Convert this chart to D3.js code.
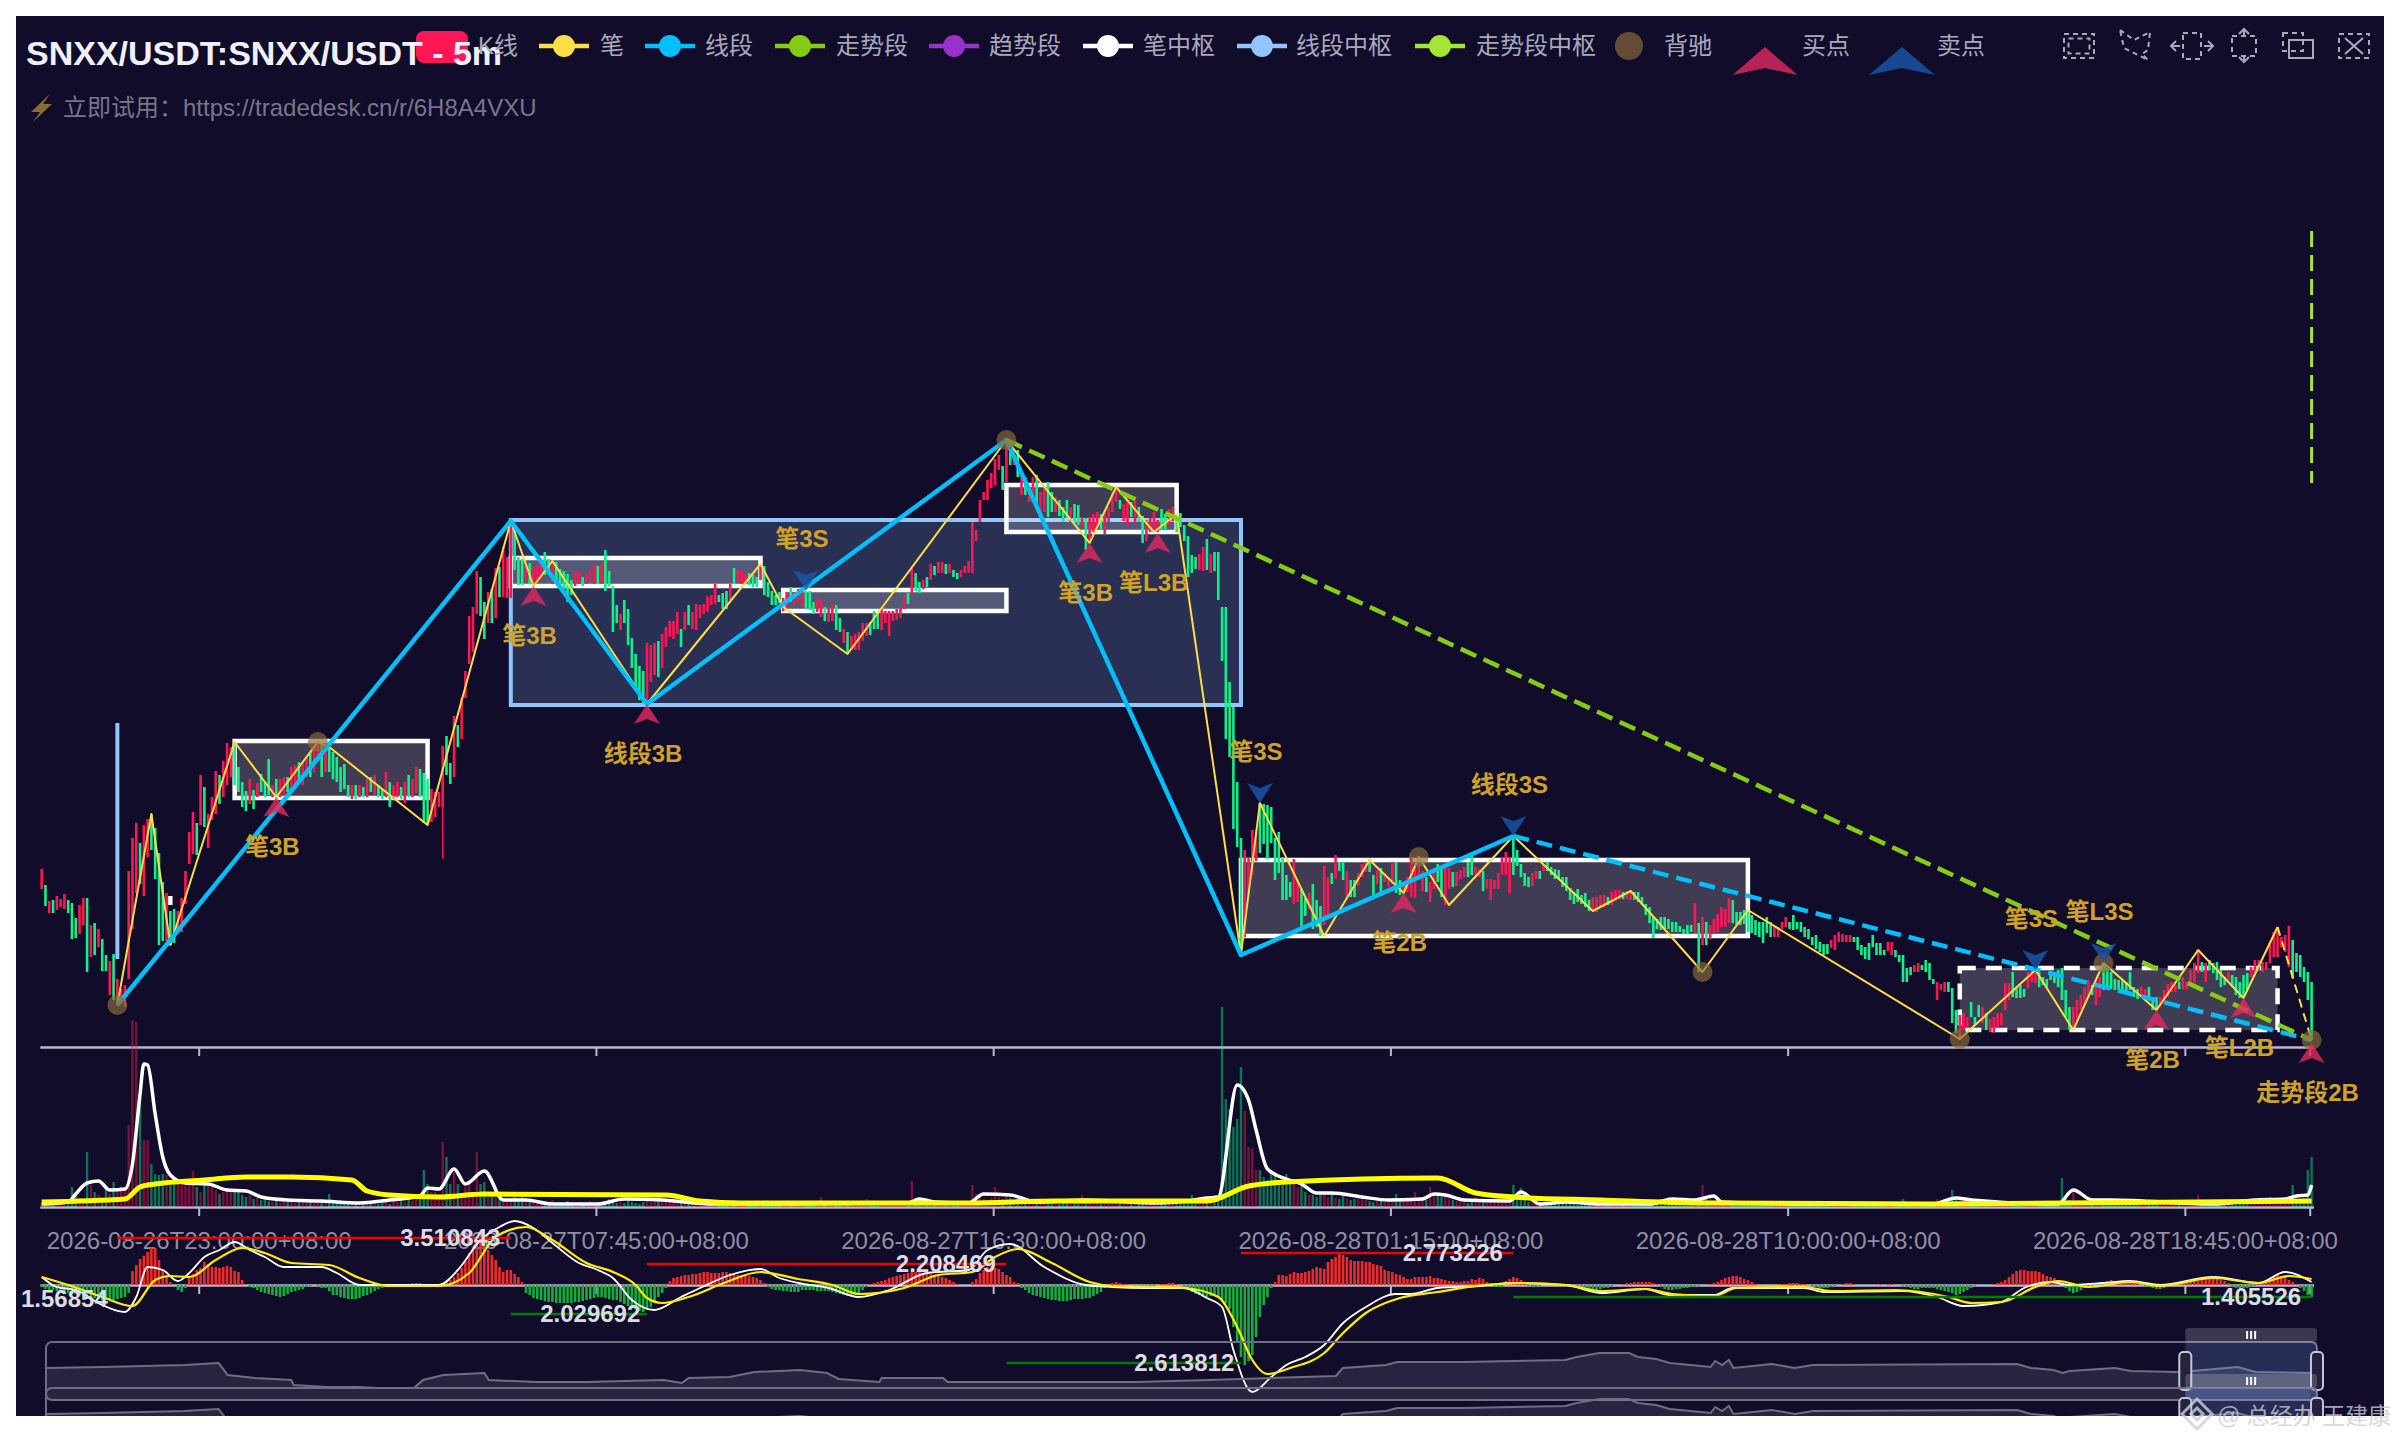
<!DOCTYPE html>
<html>
<head>
<meta charset="utf-8">
<title>SNXX/USDT 5m</title>
<script src="https://cdn.jsdelivr.net/npm/d3@7"></script>
<style>
  html, body { margin: 0; padding: 0; background: #fff; }
  text { font-family: "Liberation Sans", "Noto Sans CJK SC", sans-serif; }
</style>
</head>
<body>
<div id="chart"></div>
<script>
// ---- data, price and volume are in chart units (no axis values shown) ----
const barCount = 601;
const tickIndex = [42, 147, 252, 357, 462, 567, 600];
const tickLabels = ["2026-08-26T23:00:00+08:00", "2026-08-27T07:45:00+08:00", "2026-08-27T16:30:00+08:00",
  "2026-08-28T01:15:00+08:00", "2026-08-28T10:00:00+08:00", "2026-08-28T18:45:00+08:00", ""];

// [open, close] per bar
const candles = [
  [158,178],[162,141],[134,146],[147,134],[137,151],[140,148],[138,153],[147,134],[144,108],[129,109],
  [113,142],[122,149],[149,75],[90,122],[124,92],[100,118],[108,76],[92,76],[52,86],[93,47],
  [42,68],[45,58],[40,62],[68,176],[118,209],[154,224],[204,163],[151,222],[190,228],[233,197],
  [219,168],[194,102],[165,106],[106,154],[136,102],[138,104],[115,136],[115,149],[143,176],[183,215],
  [193,235],[224,192],[222,272],[260,220],[199,233],[227,250],[233,276],[272,243],[250,286],[262,304],
  [270,300],[305,262],[280,255],[265,240],[256,236],[243,268],[257,238],[250,264],[273,255],[265,250],
  [288,252],[250,262],[268,249],[250,268],[252,270],[270,255],[255,280],[260,282],[285,265],[262,285],
  [270,290],[295,270],[275,300],[285,305],[302,270],[275,300],[300,275],[295,268],[290,265],[280,255],
  [283,258],[262,250],[248,262],[262,248],[250,262],[260,250],[250,268],[270,255],[252,272],[262,250],
  [258,248],[250,275],[265,240],[248,262],[250,265],[260,248],[244,265],[272,250],[250,268],[254,280],
  [278,250],[274,224],[268,222],[225,258],[230,255],[240,255],[240,301],[311,272],[284,263],[270,331],
  [322,300],[308,349],[349,376],[383,431],[395,440],[433,476],[470,431],[445,408],[424,455],[458,424],
  [429,479],[480,450],[450,500],[449,490],[449,526],[516,477],[490,462],[488,462],[465,485],[484,463],
  [461,480],[465,483],[467,486],[495,472],[488,476],[463,486],[485,465],[478,462],[476,458],[473,445],
  [467,452],[461,476],[463,475],[470,461],[463,474],[465,477],[463,483],[481,463],[463,483],[497,456],
  [476,461],[461,415],[442,424],[417,433],[447,424],[438,402],[409,379],[393,360],[381,347],[376,343],
  [343,404],[365,402],[372,404],[406,370],[379,413],[400,420],[410,426],[408,426],[413,435],[418,400],
  [417,435],[442,422],[418,435],[417,443],[429,442],[433,443],[435,451],[442,452],[443,463],[452,445],
  [454,438],[456,438],[447,463],[479,463],[465,477],[463,476],[463,474],[474,462],[472,460],[470,460],
  [467,483],[481,452],[465,450],[456,442],[452,442],[455,444],[436,449],[440,455],[460,445],[442,455],
  [445,458],[440,456],[456,438],[456,437],[445,433],[435,448],[430,447],[440,426],[425,440],[426,443],
  [442,417],[429,415],[404,418],[415,393],[397,411],[397,413],[397,415],[406,424],[411,424],[425,412],
  [436,418],[433,418],[417,438],[424,436],[411,436],[426,436],[427,438],[429,442],[438,452],[454,443],
  [454,479],[474,456],[465,454],[458,467],[470,460],[467,483],[481,472],[474,485],[474,485],[483,473],
  [474,483],[477,470],[474,468],[470,477],[474,481],[474,486],[474,525],[506,517],[525,547],[547,555],
  [547,567],[559,574],[562,588],[577,592],[581,557],[565,607],[599,582],[582,597],[597,570],[552,574],
  [570,552],[545,555],[545,570],[572,540],[530,555],[535,560],[565,530],[555,535],[535,550],[547,531],
  [540,525],[547,529],[525,540],[543,524],[542,522],[520,530],[529,497],[504,530],[515,533],[520,535],
  [533,518],[513,536],[525,540],[535,555],[545,560],[547,538],[526,543],[522,547],[545,530],[524,547],
  [540,525],[531,504],[506,527],[515,529],[515,535],[515,527],[538,518],[533,518],[522,538],[526,540],
  [529,515],[534,520],[522,506],[511,470],[492,474],[490,478],[477,493],[476,500],[508,477],[474,493],
  [495,476],[495,447],[440,386],[440,308],[365,290],[340,218],[265,200],[209,92],[110,197],[150,190],
  [172,217],[186,217],[244,194],[243,203],[242,188],[240,204],[209,167],[215,174],[190,147],[172,147],
  [165,150],[143,188],[145,165],[158,120],[149,131],[138,154],[163,118],[147,120],[141,111],[122,181],
  [130,170],[174,163],[168,192],[185,176],[185,167],[150,176],[167,150],[167,150],[161,174],[170,183],
  [175,185],[188,175],[172,152],[163,177],[179,152],[165,174],[160,169],[163,185],[185,154],[167,152],
  [154,165],[155,170],[150,190],[149,179],[167,183],[156,176],[170,155],[145,165],[158,179],[183,165],
  [180,150],[142,179],[158,179],[175,160],[161,175],[168,177],[170,180],[185,170],[192,172],[172,180],
  [170,178],[176,156],[158,168],[147,168],[158,167],[158,174],[172,190],[172,195],[154,190],[209,172],
  [197,181],[183,170],[174,161],[170,160],[161,174],[168,176],[176,168],[176,183],[185,176],[180,172],
  [178,168],[177,168],[170,160],[170,156],[159,147],[155,143],[158,145],[152,143],[154,140],[147,136],
  [137,150],[135,150],[140,152],[140,152],[150,142],[142,155],[148,157],[148,157],[155,148],[148,156],
  [147,156],[155,147],[155,145],[150,142],[143,132],[140,124],[130,109],[128,118],[130,117],[130,117],
  [128,118],[125,115],[125,115],[121,115],[118,113],[122,113],[122,115],[114,144],[124,75],[102,130],
  [125,102],[108,122],[113,128],[115,133],[120,140],[120,138],[124,149],[147,124],[135,122],[135,122],
  [137,123],[135,115],[132,114],[127,112],[125,110],[125,104],[130,114],[125,110],[110,120],[110,120],
  [118,125],[120,130],[125,118],[132,117],[125,118],[125,115],[120,110],[118,108],[110,102],[112,98],
  [105,95],[103,92],[103,93],[99,107],[97,112],[105,115],[105,113],[105,112],[105,112],[110,105],
  [110,97],[102,92],[100,88],[104,87],[112,100],[104,92],[104,92],[97,92],[96,105],[92,105],
  [97,90],[92,85],[92,65],[79,65],[80,72],[75,82],[75,84],[82,77],[87,75],[84,67],
  [68,63],[47,65],[57,63],[55,65],[65,55],[59,24],[37,14],[9,32],[17,34],[20,30],
  [45,30],[30,22],[42,30],[24,40],[34,17],[15,28],[15,30],[20,34],[22,34],[37,64],
  [47,64],[75,50],[60,49],[62,49],[58,50],[59,75],[65,77],[64,79],[75,60],[70,62],
  [68,60],[75,67],[74,64],[77,60],[79,47],[57,30],[40,17],[20,40],[27,47],[37,52],
  [42,60],[50,67],[62,52],[42,65],[50,70],[84,57],[79,60],[75,58],[68,57],[67,57],
  [67,57],[65,55],[75,57],[60,50],[58,48],[50,60],[50,58],[60,47],[50,37],[50,37],
  [40,50],[43,57],[50,63],[55,65],[55,62],[65,58],[57,70],[58,65],[62,77],[64,84],
  [74,97],[85,75],[65,84],[87,77],[84,74],[85,67],[77,60],[70,62],[67,75],[72,60],
  [70,52],[65,49],[72,50],[74,57],[70,80],[74,87],[77,87],[75,85],[77,85],[84,105],
  [90,115],[90,120],[100,110],[95,112],[80,121],[107,69],[94,75],[92,70],[80,65],[75,47],
  [65,7]
];
// [bar, low, high]
const candleWicks = [[106, 188, 301]];

const volumes = [
  4,4,5,3,4,3,5,6,20,13,9,8,55,22,15,12,9,18,13,25,17,20,17,82,187,185,113,67,67,43,33,32,33,32,27,27,25,23,25,23,36,
  20,15,28,25,20,17,13,15,18,15,17,15,12,10,12,8,9,7,8,6,5,6,4,7,5,6,4,5,6,5,6,4,7,5,6,13,6,5,7,4,5,4,3,5,4,3,4,5,3,4,5,3,6,5,7,5,8,6,9,11,
  37,23,15,15,12,65,50,23,35,23,13,20,27,13,55,23,25,13,13,10,8,9,7,9,10,8,10,7,8,5,4,6,4,5,7,4,5,4,6,3,4,5,3,4,6,4,3,4,5,8,6,4,5,4,6,5,4,3,5,7,5,6,10,7,6,8,7,6,8,9,
  6,7,5,6,4,5,4,5,3,4,5,4,3,5,4,3,4,3,4,6,4,3,5,4,3,4,3,5,4,3,
  3,4,3,5,4,10,4,3,5,3,4,3,4,3,3,4,3,8,4,6,4,3,5,4,3,4,5,4,6,26,9,8,9,7,5,3,4,3,4,3,3,4,3,5,6,22,13,9,8,7,9,20,10,8,13,9,7,8,6,5,4,3,5,4,3,4,3,4,3,4,5,3,4,5,12,6,5,4,5,3,4,5,7,5,6,4,5,3,4,6,5,4,3,4,5,3,4,3,5,4,3,4,6,12,6,5,6,7,6,8,7,
  200,108,98,80,88,140,96,60,59,37,37,30,27,33,34,27,23,33,27,23,20,23,15,12,12,10,12,16,10,15,9,8,13,8,7,8,8,9,7,6,5,8,6,5,6,8,13,7,8,10,8,15,10,8,7,20,13,12,10,13,8,7,6,8,5,4,6,10,7,5,4,5,4,6,5,7,9,22,10,19,8,5,4,3,4,5,3,4,5,6,4,3,5,4,6,3,4,3,4,3,
  3,4,3,2,4,3,3,4,3,2,3,4,3,4,5,6,8,6,10,6,4,5,6,4,7,8,10,22,9,8,7,6,7,5,4,6,3,4,3,5,3,4,3,3,2,4,3,2,3,4,2,3,4,3,2,3,4,3,2,4,3,2,3,4,2,3,2,3,4,2,3,2,3,2,3,4,2,3,3,4,8,3,2,3,2,3,2,3,3,8,3,4,5,17,7,8,7,5,6,5,3,4,3,2,5,3,4,6,4,5,3,4,3,4,3,4,3,2,3,4,5,6,29,8,7,17,6,5,6,4,5,4,6,5,3,4,3,4,5,4,3,4,5,3,4,3,4,3,4,5,3,4,3,4,5,4,6,5,12,6,5,4,3,4,3,4,3,4,3,5,4,5,6,7,5,6,7,10,8,9,7,6,8,22,7,8,9,37,50
];
// [bar, value] nodes of the two volume averages
const volumeFast = [[0,3],[7,5],[9,13],[12,24],[15,26],[18,17],[22,18],[24,43],[26,113],[27,143],[28,142],[30,93],[32,50],[34,32],[38,24],[44,23],[49,17],[54,16],[58,10],[65,7],[74,6],[84,4],[92,7],[100,11],[102,19],[105,18],[109,38],[112,23],[117,36],[122,7],[128,7],[135,3],[147,3],[154,8],[164,7],[178,3],[199,3],
  [229,4],[232,8],[236,5],[245,4],[249,13],[256,12],[263,5],[276,7],[295,4],[303,6],[308,9],[311,10],[316,122],[319,107],[321,77],[324,38],[329,28],[333,23],[337,14],[341,14],[349,10],[356,7],[365,8],[368,13],[371,12],[376,7],[388,6],[391,15],[396,3],[403,5],[412,3],
  [425,3],[431,8],[437,7],[442,11],[444,5],[466,3],[500,3],[506,9],[510,7],[533,3],[537,17],[542,7],[547,7],[574,3],[585,7],[593,8],[596,11],[599,12],[600,22]];
const volumeSlow = [[0,5],[22,8],[26,20],[30,23],[43,27],[54,30],[66,30],[82,27],[86,16],[92,12],[105,10],[117,13],[165,12],[174,6],[185,4],[245,4],[268,6],[308,6],[319,21],[329,25],[369,29],[379,14],[389,10],[412,7],[439,4],[500,3],[600,6]];

const macdHist = [
  -2,-4,-5,-5,-6,-6,-7,-8,-9,-9,-10,-11,-12,-13,-13,-14,-15,-15,-15,-15,-14,-13,-12,-8,
  14,20,26,29,33,37,37,25,15,8,3,0,-5,-7,-3,8,11,15,17,23,21,18,18,17,18,19,18,14,13,5,0,
  -2,-3,-5,-7,-8,-9,-10,-11,-12,-11,-9,-7,-6,-5,-4,-2,-1,0,-1,-3,-3,-6,-10,-10,-12,-13,-14,-14,-14,-13,-11,-10,-8,-6,-4,-3,-2,-1,
  0,0,0,0,1,2,2,2,1,1,1,1,1,2,3,5,8,12,17,24,32,38,43,44,43,35,30,25,18,13,15,15,11,8,3,
  -8,-10,-13,-14,-15,-16,-17,-17,-18,-18,-18,-18,-18,-17,-17,-16,-15,-14,-13,-12,-12,-13,-14,-15,-15,-17,-19,-21,-22,-24,-26,-27,-25,-22,-18,-12,-8,-3,
  4,7,8,9,10,10,11,11,12,13,13,12,12,12,13,13,12,11,10,10,10,9,8,7,5,2,
  -2,-4,-5,-5,-6,-6,-7,-7,-7,
  -5,-5,-5,-5,-6,-6,-6,-6,-7,-8,-9,-10,-11,-11,-10,-8,-5,-2,
  1,2,3,4,5,7,8,9,10,11,12,13,13,13,12,12,11,10,9,8,7,5,3,1,0,0,0,
  3,6,12,15,18,19,17,16,13,10,8,3,2,
  -3,-5,-8,-10,-11,-12,-13,-14,-15,-15,-16,-16,-16,-15,-14,-14,-14,-13,-13,-11,-9,-7,-3,-1,
  2,3,2,1,1,0,-1,-2,-3,-3,-2,-1,0,1,1,2,2,1,0,-1,-5,-7,-9,-10,-12,-12,-11,-10,-12,-15,-18,
  -24,-42,-56,-72,-80,-76,-70,-52,-32,-20,-12,-3,
  3,10,10,9,11,13,12,12,13,14,16,18,17,16,23,26,28,31,30,28,25,24,24,24,23,23,21,20,19,15,14,13,11,10,8,6,6,8,8,8,8,9,7,7,6,5,4,4,3,3,4,4,6,5,7,6,3,2,
  -2,-2,-2,4,6,8,7,5,2,-1,-2,-2,-1,0,0,0,0,-1,-1,-1,-1,-2,-3,-4,-5,-6,-7,-6,
  -4,-3,-3,-1,0,0,1,2,2,3,3,3,3,3,2,1,-2,-4,-5,-5,-4,-4,-3,-3,-2,-2,-1,0,0,1,2,3,5,7,8,9,9,8,6,5,3,1,0,0,
  0,0,0,0,1,1,2,2,2,1,1,0,-1,-2,-3,-3,-3,-2,-1,0,1,2,2,1,0,0,0,0,0,0,1,0,1,1,0,0,
  -1,-2,-3,-4,-4,-3,-3,-3,-3,-4,-5,-6,-7,-8,-10,-9,-7,-5,-3,-1,0,0,0,0,1,2,3,5,8,11,14,15,15,14,14,14,13,11,9,8,7,5,3,
  -3,-6,-8,-7,-5,-3,-2,-1,0,0,2,4,5,4,3,3,3,2,2,1,0,-1,-2,-3,-4,-4,-3,-2,-1,1,2,2,3,3,4,4,5,6,6,7,6,5,4,2,
  -2,-3,-3,-3,-3,-2,-1,1,3,5,7,9,10,9,8,5,3,1,-3,-6,-10,-12
];
// [bar, value] nodes of DIF and DEA
const macdDif = [[0,8],[4,-2],[9,-5],[16,-20],[22,-27],[25,-12],[28,18],[32,15],[36,4],[39,12],[43,28],[47,35],[51,43],[55,35],[59,28],[64,18],[74,18],[78,12],[84,0],[97,0],[105,0],[110,15],[116,45],[121,58],[125,64],[130,57],[135,42],[142,22],[147,15],[151,7],[156,-15],[162,-25],[169,-12],[174,-3],[182,10],[190,16],[195,7],[200,2],
  [208,-3],[216,-12],[224,-5],[234,12],[245,15],[250,35],[256,41],[265,18],[276,0],[283,-2],[292,-3],[302,-3],[308,-13],[312,-22],[315,-65],[320,-107],[325,-92],[329,-80],[334,-72],[339,-60],[344,-38],[350,-22],[358,-9],[362,-9],[369,-3],[380,-1],[389,2],[403,0],[412,-8],
  [424,-4],[430,-10],[442,-10],[447,-3],[466,-3],[471,-7],[492,-6],[501,-12],[508,-21],[518,-17],[524,-3],[531,3],[536,0],[545,2],[552,4],[560,0],[574,8],[586,2],[593,13],[600,3]];
const macdDea = [[0,8],[7,0],[16,-12],[24,-21],[30,5],[34,9],[39,8],[46,25],[53,37],[59,32],[66,22],[76,20],[84,7],[92,-1],[105,-1],[113,12],[120,48],[128,58],[135,45],[144,22],[151,13],[157,0],[160,-13],[164,-18],[171,-12],[181,3],[190,13],[200,6],
  [209,0],[216,-9],[228,-3],[237,10],[246,13],[252,28],[258,36],[267,22],[277,3],[283,-1],[294,-2],[302,-3],[311,-12],[316,-42],[320,-75],[324,-89],[330,-83],[339,-68],[344,-48],[350,-28],[359,-13],[369,-7],[381,0],[392,2],[403,0],[412,-6],
  [424,-4],[431,-9],[442,-11],[448,-3],[466,-2],[473,-6],[490,-5],[504,-12],[510,-18],[518,-17],[527,-2],[533,4],[541,-2],[552,3],[560,-1],[574,7],[586,2],[594,9],[600,6]];
// [from bar, to bar, level, text, bar the text sits over]
const macdMarks = [[20,124,47,"3.510843",108],[124,160,-29,"2.029692",145],[160,255,21,"2.208469",239],[255,317,-78,"2.613812",302],[317,389,32,"2.773226",373],[389,600,-12,"1.405526",584]];

// [bar, price]
const biPoints = [[20,42],[29,233],[34,102],[51,305],[62,250],[73,305],[76,300],[102,222],[124,526],[130,461],[135,486],[160,343],[190,483],[196,440],[213,393],[255,607],[277,504],[284,560],[294,515],[300,533],[317,92],[322,244],[339,111],[351,187],[360,154],[364,190],[372,142],[389,211],[410,136],[420,156],[439,75],[451,137],[507,8],[527,77],[537,17],[545,84],[559,37],[570,97],[582,49],[591,120]];
const biPending = [[591,120],[600,7]];
const segmentPoints = [[20,42],[124,526],[160,343],[255,607],[317,92],[389,211]];
const segmentPending = [[389,211],[600,7]];
const trendPending = [[255,607],[600,7]];

// [from bar, to bar, low, high]
const biCenters = [[51,102,249,306],[124,190,461,489],[196,255,436,457],[255,300,515,562],[317,451,111,187],[34,34,142,151]];
const biCenterPending = [[507,591,17,79]];
const segmentCenters = [[124,317,342,527],[20,20,88,324]];
const trendCenterPending = [[600,600,564,816]];

const divergencePoints = [[20,42],[73,305],[255,607],[364,190],[439,75],[507,8],[545,84],[600,7]];
const buyPoints = [[62,250,"笔3B"],[130,461,"笔3B"],[160,343,"线段3B"],[277,504,"笔3B"],[295,514,"笔L3B"],[360,154,"笔2B"],[559,37,"笔2B"],[582,49,"笔L2B"],[600,4,"走势段2B"]];
const sellPoints = [[202,457,"笔3S"],[322,244,"笔3S"],[389,211,"线段3S"],[527,77,"笔3S"],[545,84,"笔L3S"]];

const legendLines = [["笔","#FFDD44"],["线段","#00BFFF"],["走势段","#86CB14"],["趋势段","#9932CC"],["笔中枢","#FFFFFF"],["线段中枢","#93C5FD"],["走势段中枢","#A3E635"]];

// [position, value] of the history shown behind the zoom sliders
const sliderHistory = [[0,32],[25,33],[61,35],[76,37],[80,25],[92,22],[108,20],[109,15],[124,13],[137,13],[146,12],[162,12],[166,20],[175,25],[193,27],[195,20],[216,18],[238,18],[272,20],[280,17],[283,22],[301,23],[312,28],[332,30],[344,27],[349,21],[367,18],[368,22],[395,22],[397,18],[480,18],[512,20],[568,24],[571,32],[590,35],[595,38],[624,38],[669,40],[674,43],[684,47],[697,47],[701,43],[709,41],[715,37],[733,33],[735,39],[738,35],[741,40],[743,32],[760,36],[770,32],[778,35],[868,36],[874,32],[884,30],[888,27],[891,29],[911,32],[918,29],[938,28],[945,29],[965,33],[973,28],[997,27]];

// ---- colours ----
const upColor = "#FF1654", downColor = "#10F08C";
const buyColor = "#E0285F", sellColor = "#1A56A8", divColor = "#8B6B3D";
const labelColor = "#CFA229", axisColor = "#B9B8CE";

// ---- scales ----
const svg = d3.select("#chart").append("svg")
  .attr("width", 2400).attr("height", 1440)
  .style("display", "block");

const x = d3.scaleLinear().domain([0, barCount]).range([39.8, 2313.5]);
const xc = function(i) { return x(i + 0.5); };
const yPrice = d3.scaleLinear().domain([0, 600]).range([1047, 447]);
const yVol = d3.scaleLinear().domain([0, 200]).range([1207, 1007]);
const yMacd = d3.scaleLinear().domain([-110, 70]).range([1395, 1215]);

const priceLine = d3.line().x(d => xc(d[0])).y(d => yPrice(d[1]));
const volLine = d3.line().x(d => xc(d[0])).y(d => yVol(d[1])).curve(d3.curveMonotoneX);
const macdLine = d3.line().x(d => xc(d[0])).y(d => yMacd(d[1])).curve(d3.curveMonotoneX);

// background
svg.append("rect").attr("x", 16).attr("y", 16).attr("width", 2368).attr("height", 1400).attr("fill", "#100C2A");
svg.append("defs").append("clipPath").attr("id", "plate")
  .append("rect").attr("x", 16).attr("y", 16).attr("width", 2368).attr("height", 1400);

// ---- axes ----
function drawAxis(yPos, labels) {
  const axis = d3.axisBottom(x).tickValues(tickIndex).tickSizeInner(9).tickSizeOuter(0).tickPadding(16)
    .tickFormat(function(d, i) { return labels ? tickLabels[i] : ""; });
  const g = svg.append("g").attr("transform", "translate(0," + yPos + ")").call(axis);
  g.select(".domain").attr("stroke", axisColor).attr("stroke-width", 2.5);
  g.selectAll(".tick line").attr("stroke", axisColor).attr("stroke-width", 2);
  g.selectAll(".tick text").attr("fill", "#8F8EA2").style("font-size", "24px")
    .style("font-family", '"Liberation Sans", sans-serif');
}
drawAxis(yPrice(0), false);
drawAxis(yVol(0), true);
drawAxis(yMacd(0), false);

// ---- volume panel ----
svg.append("g").selectAll("rect").data(volumes).enter().append("rect")
  .attr("x", (d, i) => xc(i) - 1.2)
  .attr("y", d => yVol(d))
  .attr("width", 2.4)
  .attr("height", d => yVol(0) - yVol(d))
  .attr("fill", (d, i) => candles[i][1] >= candles[i][0] ? upColor : downColor)
  .attr("opacity", 0.45);
svg.append("path").datum(volumeFast).attr("d", volLine).attr("fill", "none").attr("stroke", "#fff").attr("stroke-width", 3.5);
svg.append("path").datum(volumeSlow).attr("d", volLine).attr("fill", "none").attr("stroke", "#FFFF00").attr("stroke-width", 5);

// ---- macd panel ----
svg.append("g").selectAll("rect").data(macdHist).enter().append("rect")
  .attr("x", (d, i) => xc(i) - 1.3)
  .attr("y", d => yMacd(Math.max(d, 0)))
  .attr("width", 2.6)
  .attr("height", d => Math.abs(yMacd(d) - yMacd(0)))
  .attr("fill", d => d >= 0 ? "#EE2A2A" : "#14AE3C");
svg.append("path").datum(macdDif).attr("d", macdLine).attr("fill", "none").attr("stroke", "#fff").attr("stroke-width", 1.8);
svg.append("path").datum(macdDea).attr("d", macdLine).attr("fill", "none").attr("stroke", "#FFEE00").attr("stroke-width", 2.2);

svg.append("g").selectAll("line").data(macdMarks).enter().append("line")
  .attr("x1", d => xc(d[0])).attr("x2", d => xc(d[1]))
  .attr("y1", d => yMacd(d[2])).attr("y2", d => yMacd(d[2]))
  .attr("stroke", d => d[2] > 0 ? "#F00000" : "#007A00").attr("stroke-width", 2.4);
svg.append("g").selectAll("text").data(macdMarks).enter().append("text")
  .attr("x", d => xc(d[4]))
  .attr("y", d => yMacd(d[2]) + 8)
  .attr("text-anchor", "middle")
  .attr("fill", "#DCDCE4").attr("font-size", 24).attr("font-weight", "bold")
  .text(d => d[3]);
svg.append("text").attr("x", xc(6)).attr("y", yMacd(-14) + 8).attr("text-anchor", "middle")
  .attr("fill", "#DCDCE4").attr("font-size", 24).attr("font-weight", "bold").text("1.56854");

// ---- pivot boxes, as paths so the ones with no width still draw ----
function boxPath(d) {
  const p = d3.path();
  p.moveTo(xc(d[0]), yPrice(d[3]));
  if (d[0] === d[1]) {
    // single bar box is just a vertical stroke, don't go back over it or the dashes fill in
    p.lineTo(xc(d[1]), yPrice(d[2]));
    return p.toString();
  }
  p.lineTo(xc(d[1]), yPrice(d[3]));
  p.lineTo(xc(d[1]), yPrice(d[2]));
  p.lineTo(xc(d[0]), yPrice(d[2]));
  p.closePath();
  return p.toString();
}
function drawCenters(rows, stroke, fill, width, dash) {
  svg.append("g").selectAll("path").data(rows).enter().append("path")
    .attr("d", boxPath)
    .attr("fill", fill)
    .attr("stroke", stroke)
    .attr("stroke-width", width)
    .attr("stroke-dasharray", dash);
}
drawCenters(segmentCenters, "#93C5FD", "rgba(147,197,253,0.2)", 4, null);
drawCenters(biCenters, "#FFFFFF", "rgba(255,255,255,0.2)", 4.5, null);
drawCenters(biCenterPending, "#FFFFFF", "rgba(255,255,255,0.2)", 4.5, "16 10");
drawCenters(trendCenterPending, "#A3E635", "none", 3, "16 8");

// ---- candles ----
const candleG = svg.append("g");
candleG.selectAll("line").data(candleWicks).enter().append("line")
  .attr("x1", d => xc(d[0])).attr("x2", d => xc(d[0]))
  .attr("y1", d => yPrice(d[1])).attr("y2", d => yPrice(d[2]))
  .attr("stroke", d => candles[d[0]][1] >= candles[d[0]][0] ? upColor : downColor)
  .attr("stroke-width", 1.5);
candleG.selectAll("rect").data(candles).enter().append("rect")
  .attr("x", (d, i) => xc(i) - 1.3)
  .attr("y", d => yPrice(Math.max(d[0], d[1])))
  .attr("width", 2.6)
  .attr("height", d => Math.abs(yPrice(d[0]) - yPrice(d[1])))
  .attr("fill", d => d[1] >= d[0] ? upColor : downColor);

// ---- strokes ----
function drawPath(points, color, width, dash) {
  svg.append("path").datum(points).attr("d", priceLine)
    .attr("fill", "none").attr("stroke", color).attr("stroke-width", width)
    .attr("stroke-linejoin", "round").attr("stroke-dasharray", dash);
}
drawPath(biPoints, "#FFDD44", 2, null);
drawPath(biPending, "#FFDD44", 2, "9 6");
drawPath(segmentPoints, "#00BFFF", 4.5, null);
drawPath(segmentPending, "#00BFFF", 4.5, "16 8");
drawPath(trendPending, "#86CB14", 4.5, "17 8");

// ---- markers ----
svg.append("g").selectAll("ellipse").data(divergencePoints).enter().append("ellipse")
  .attr("cx", d => xc(d[0])).attr("cy", d => yPrice(d[1]))
  .attr("rx", 10).attr("ry", 10)
  .attr("fill", divColor).attr("opacity", 0.68);

function arrow(w, h) {
  return "M0,0L" + (w / 2) + "," + h + "L0," + (h * 0.75) + "L" + (-w / 2) + "," + h + "Z";
}
function drawSignals(rows, color, flip) {
  const g = svg.append("g");
  g.selectAll("path").data(rows).enter().append("path")
    .attr("d", arrow(26, flip ? -20 : 20))
    .attr("transform", d => "translate(" + xc(d[0]) + "," + yPrice(d[1]) + ")")
    .attr("fill", color).attr("opacity", 0.82);
  g.selectAll("text").data(rows).enter().append("text")
    .attr("x", d => xc(d[0]) - 4)
    .attr("y", d => yPrice(d[1]) + (flip ? -52 : 49) + 9)
    .attr("text-anchor", "middle")
    .attr("fill", labelColor).attr("font-size", 24).attr("font-weight", "bold")
    .text(d => d[2]);
}
drawSignals(buyPoints, buyColor, false);
drawSignals(sellPoints, sellColor, true);

// ---- zoom sliders ----
const slider = d3.scaleLinear().domain([0, 1000]).range([46, 2317]);
const sliderG = svg.append("g").attr("clip-path", "url(#plate)");
[1342, 1388].forEach(function(top) {
  const bottom = top + 58;
  const sY = d3.scaleLinear().domain([0, 58]).range([bottom, top]);
  sliderG.append("path").datum(sliderHistory)
    .attr("d", d3.area().x(d => slider(d[0])).y0(bottom).y1(d => sY(d[1])))
    .attr("fill", "#B9B8CE").attr("opacity", 0.14);
  sliderG.append("path").datum(sliderHistory)
    .attr("d", d3.line().x(d => slider(d[0])).y(d => sY(d[1])))
    .attr("fill", "none").attr("stroke", "#6F6E80").attr("stroke-width", 2);
  sliderG.append("rect").attr("x", 46).attr("y", top).attr("width", 2271).attr("height", 58).attr("rx", 6)
    .attr("fill", "none").attr("stroke", "#6F6E80").attr("stroke-width", 2);
  // selected window
  sliderG.append("rect").attr("x", slider(942)).attr("y", top).attr("width", slider(1000) - slider(942)).attr("height", 58)
    .attr("fill", "rgba(135,175,255,0.2)");
  sliderG.append("rect").attr("x", slider(942)).attr("y", top - 14).attr("width", slider(1000) - slider(942)).attr("height", 14).attr("rx", 3)
    .attr("fill", "rgba(255,255,255,0.18)");
  [-4, 0, 4].forEach(function(dx) {
    sliderG.append("rect").attr("x", (slider(942) + slider(1000)) / 2 + dx - 1).attr("y", top - 11).attr("width", 2).attr("height", 8).attr("fill", "#fff");
  });
  [942, 1000].forEach(function(pos) {
    sliderG.append("rect").attr("x", slider(pos) - 6).attr("y", top + 10).attr("width", 12).attr("height", 38).attr("rx", 4)
      .attr("fill", "#24223E").attr("stroke", "#C4C3D4").attr("stroke-width", 2);
  });
});

// ---- title, legend ----
svg.append("rect").attr("x", 416).attr("y", 31).attr("width", 52).attr("height", 32).attr("rx", 8).attr("fill", upColor);
svg.append("text").attr("x", 26).attr("y", 65).attr("fill", "#EEF1FA").attr("font-size", 34).attr("font-weight", "bold")
  .text("SNXX/USDT:SNXX/USDT - 5m");
svg.append("path").attr("d", "M50,94L31,112L40,112L33,122L52,104L43,104Z").attr("fill", "#8A6D33");
svg.append("text").attr("x", 63).attr("y", 116).attr("fill", "#77768C").attr("font-size", 24).text("立即试用：https://tradedesk.cn/r/6H8A4VXU");

const legendText = { fill: "#A9A8BC", size: 24 };
function legendLabel(px, label) {
  svg.append("text").attr("x", px).attr("y", 54).attr("fill", legendText.fill).attr("font-size", legendText.size).text(label);
}
legendLabel(478, "K线");
const legendStarts = [539, 645, 775, 929, 1083, 1237, 1415];
const legendTextStarts = [600, 705, 836, 989, 1143, 1296, 1476];
legendLines.forEach(function(item, i) {
  const lx = legendStarts[i];
  svg.append("line").attr("x1", lx).attr("x2", lx + 50).attr("y1", 46).attr("y2", 46).attr("stroke", item[1]).attr("stroke-width", 4.5);
  svg.append("circle").attr("cx", lx + 25).attr("cy", 46).attr("r", 11).attr("fill", item[1]);
  legendLabel(legendTextStarts[i], item[0]);
});
svg.append("circle").attr("cx", 1629).attr("cy", 46).attr("r", 14).attr("fill", divColor).attr("opacity", 0.68);
legendLabel(1664, "背驰");
svg.append("path").attr("d", arrow(65, 28)).attr("transform", "translate(1765,47)").attr("fill", buyColor).attr("opacity", 0.82);
legendLabel(1802, "买点");
svg.append("path").attr("d", arrow(66, 28)).attr("transform", "translate(1902,47)").attr("fill", sellColor).attr("opacity", 0.82);
legendLabel(1937, "卖点");

// ---- toolbox icons ----
const toolboxG = svg.append("g").attr("fill", "none").attr("stroke", "#A9A8BC").attr("stroke-width", 2);
function dashBox(cx, cy, w, h) {
  toolboxG.append("rect").attr("x", cx - w / 2).attr("y", cy - h / 2).attr("width", w).attr("height", h).attr("stroke-dasharray", "5 4");
}
dashBox(2079, 46, 30, 24);
dashBox(2079, 46, 21, 15);
toolboxG.append("path").attr("stroke-dasharray", "5 4").attr("d", "M2120,30L2134,40L2150,32L2148,50L2142,54L2148,60L2124,48Z");
dashBox(2192, 46, 18, 26);
toolboxG.append("path").attr("d", "M2180,46h-8m4,-5l-5,5l5,5M2204,46h8m-4,-5l5,5l-5,5");
dashBox(2244, 46, 24, 20);
toolboxG.append("path").attr("d", "M2244,36v-6m-5,4l5,-5l5,5M2244,56v4m-5,-3l5,5l5,-5");
dashBox(2293, 42, 20, 18);
toolboxG.append("rect").attr("x", 2289).attr("y", 40).attr("width", 24).attr("height", 18);
dashBox(2354, 46, 30, 24);
toolboxG.append("path").attr("d", "M2345,38L2363,54M2363,38L2345,54");

// ---- watermark ----
svg.append("text").attr("x", 2217).attr("y", 1424).attr("fill", "rgba(205,205,215,0.8)").attr("font-size", 23).text("@ 总经办 王建康");
svg.append("path").attr("d", "M2197,1399L2212,1414L2197,1429L2182,1414ZM2197,1408L2203,1414L2197,1420L2191,1414Z")
  .attr("fill", "none").attr("stroke", "rgba(205,205,215,0.8)").attr("stroke-width", 3);
</script>
</body>
</html>
